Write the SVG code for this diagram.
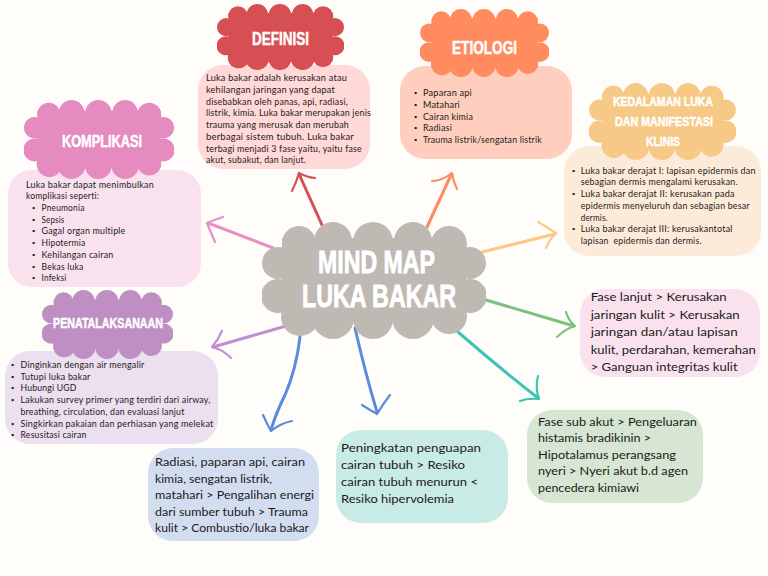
<svg xmlns="http://www.w3.org/2000/svg" xmlns:xlink="http://www.w3.org/1999/xlink" width="768" height="576" viewBox="0 0 768 576">
<style>
.b{font-family:"Lato","Open Sans",sans-serif;font-size:8.6px;fill:#1d1a1a;letter-spacing:.2px}
.d{font-family:"Lato","Open Sans",sans-serif;font-size:6.5px;fill:#1d1a1a;transform:translate(.7px,-1px)}
.l{font-family:"Lato","Open Sans",sans-serif;font-size:11.6px;fill:#1d1a1a}
.t{font-family:"Liberation Sans Narrow","Liberation Sans","Roboto",sans-serif;font-weight:700;fill:#fff;stroke:#fff;stroke-width:.45px}
.c{fill:none;stroke-width:3;stroke-linecap:round;stroke-linejoin:round}
.h{fill:none;stroke-width:2.2;stroke-linecap:round;stroke-linejoin:round}
</style>
<defs>
<symbol id="cloud" viewBox="0 0 224 117" preserveAspectRatio="none">
<rect x="20" y="16" width="184" height="84"/>
<circle cx="37" cy="21" r="17"/><circle cx="71" cy="19" r="19"/><circle cx="111" cy="20" r="20"/><circle cx="151" cy="19" r="19"/><circle cx="187" cy="22" r="18"/>
<circle cx="38" cy="95" r="19"/><circle cx="71" cy="96" r="21"/><circle cx="111" cy="97" r="20"/><circle cx="151" cy="96" r="21"/><circle cx="187" cy="94" r="18"/>
<circle cx="16" cy="41" r="16"/><circle cx="16" cy="74" r="17"/><circle cx="208" cy="41" r="16"/><circle cx="208" cy="74" r="17"/>
</symbol>
</defs>
<rect width="768" height="576" fill="#fffdfa"/>

<g id="connectors">
<g stroke="#d64f52"><path class="c" d="M322 225L299 174"/><path class="h" d="M292 191Q296 183 299 173Q306 177 315 178"/></g>
<g stroke="#ea8ec6"><path class="c" d="M273 248L208 223"/><path class="h" d="M223 217Q214 220 207 223Q211 233 215 242"/></g>
<g stroke="#ff8b5e"><path class="c" d="M427 227L451 175"/><path class="h" d="M432 181Q442 181 452 173Q453 181 457 189"/></g>
<g stroke="#fbc985"><path class="c" d="M482 252L555 234"/><path class="h" d="M538 222Q547 227 556 233Q549 240 546 248"/></g>
<g stroke="#7fbf7f"><path class="c" d="M486 300L574 326"/><path class="h" d="M566 312Q568 320 575 326Q565 329 557 337"/></g>
<g stroke="#3fc4b4"><path class="c" d="M458 332Q497 366 538 398"/><path class="h" d="M538 376Q535 388 539 399Q528 398 520 401"/></g>
<g stroke="#5b8bdc"><path class="c" d="M355 328Q365 372 377 412"/><path class="h" d="M362 405Q370 410 377 414Q383 404 390 395"/></g>
<g stroke="#5b8bdc"><path class="c" d="M300 337Q296 370 285 395Q276 413 271 430"/><path class="h" d="M263 415Q267 424 271 431Q281 423 292 421"/></g>
<g stroke="#bf8fd0"><path class="c" d="M286 326L213 347"/><path class="h" d="M222 331Q218 340 212 347Q222 349 231 358"/></g>
</g>

<g id="main">
<use href="#cloud" xlink:href="#cloud" x="262" y="222" width="224" height="117" fill="#bfb9b3"/>
<text class="t" x="318" y="272.7" font-size="31" textLength="117" lengthAdjust="spacingAndGlyphs" style="stroke-width:.9px">MIND MAP</text>
<text class="t" x="302" y="306.7" font-size="31" textLength="154" lengthAdjust="spacingAndGlyphs" style="stroke-width:.9px">LUKA BAKAR</text>
</g>

<g id="definisi">
<rect x="198" y="65" width="172" height="104" rx="25" fill="#ffd8d8"/>
<use href="#cloud" xlink:href="#cloud" x="217" y="4" width="127" height="66" fill="#d64f52"/>
<text class="t" x="252" y="44.5" font-size="18" textLength="57" lengthAdjust="spacingAndGlyphs">DEFINISI</text>
<text class="b" x="206" y="81" textLength="141" lengthAdjust="spacingAndGlyphs">Luka bakar adalah kerusakan atau</text>
<text class="b" x="206" y="92.7" textLength="129" lengthAdjust="spacingAndGlyphs">kehilangan jaringan yang dapat</text>
<text class="b" x="206" y="104.5" textLength="142" lengthAdjust="spacingAndGlyphs">disebabkan oleh panas, api, radiasi,</text>
<text class="b" x="206" y="116.2" textLength="165" lengthAdjust="spacingAndGlyphs">listrik, kimia. Luka bakar merupakan jenis</text>
<text class="b" x="206" y="128" textLength="143" lengthAdjust="spacingAndGlyphs">trauma yang merusak dan merubah</text>
<text class="b" x="206" y="139.7" textLength="148" lengthAdjust="spacingAndGlyphs">berbagai sistem tubuh. Luka bakar</text>
<text class="b" x="206" y="151.5" textLength="156" lengthAdjust="spacingAndGlyphs">terbagi menjadi 3 fase yaitu, yaitu fase</text>
<text class="b" x="206" y="163.2" textLength="100" lengthAdjust="spacingAndGlyphs">akut, subakut, dan lanjut.</text>
</g>

<g id="komplikasi">
<rect x="8" y="170" width="193" height="117" rx="24" fill="#f9e2ee"/>
<use href="#cloud" xlink:href="#cloud" x="24" y="100" width="150" height="79" fill="#e68bbf"/>
<text class="t" x="62" y="146.7" font-size="16.5" textLength="80" lengthAdjust="spacingAndGlyphs">KOMPLIKASI</text>
<text class="b" x="26" y="187.5" textLength="128" lengthAdjust="spacingAndGlyphs">Luka bakar dapat menimbulkan</text>
<text class="b" x="26" y="199.2" textLength="73" lengthAdjust="spacingAndGlyphs">komplikasi seperti:</text>
<text class="d" x="31" y="211">•</text><text class="b" x="41.5" y="211" textLength="43" lengthAdjust="spacingAndGlyphs">Pneumonia</text>
<text class="d" x="31" y="222.7">•</text><text class="b" x="41.5" y="222.7" textLength="23" lengthAdjust="spacingAndGlyphs">Sepsis</text>
<text class="d" x="31" y="234.4">•</text><text class="b" x="41.5" y="234.4" textLength="84" lengthAdjust="spacingAndGlyphs">Gagal organ multiple</text>
<text class="d" x="31" y="246.1">•</text><text class="b" x="41.5" y="246.1" textLength="44" lengthAdjust="spacingAndGlyphs">Hipotermia</text>
<text class="d" x="31" y="257.8">•</text><text class="b" x="41.5" y="257.8" textLength="72" lengthAdjust="spacingAndGlyphs">Kehilangan cairan</text>
<text class="d" x="31" y="269.5">•</text><text class="b" x="41.5" y="269.5" textLength="42" lengthAdjust="spacingAndGlyphs">Bekas luka</text>
<text class="d" x="31" y="281.2">•</text><text class="b" x="41.5" y="281.2" textLength="25" lengthAdjust="spacingAndGlyphs">Infeksi</text>
</g>

<g id="etiologi">
<rect x="400" y="66" width="172" height="93" rx="25" fill="#ffcebe"/>
<use href="#cloud" xlink:href="#cloud" x="420" y="9" width="129" height="68" fill="#ff8b5e"/>
<text class="t" x="452" y="54" font-size="18" textLength="65" lengthAdjust="spacingAndGlyphs">ETIOLOGI</text>
<text class="d" x="413" y="96">•</text><text class="b" x="423" y="96" textLength="49" lengthAdjust="spacingAndGlyphs">Paparan api</text>
<text class="d" x="413" y="107.7">•</text><text class="b" x="423" y="107.7" textLength="37" lengthAdjust="spacingAndGlyphs">Matahari</text>
<text class="d" x="413" y="119.5">•</text><text class="b" x="423" y="119.5" textLength="50" lengthAdjust="spacingAndGlyphs">Cairan kimia</text>
<text class="d" x="413" y="131.2">•</text><text class="b" x="423" y="131.2" textLength="29" lengthAdjust="spacingAndGlyphs">Radiasi</text>
<text class="d" x="413" y="143">•</text><text class="b" x="423" y="143" textLength="119" lengthAdjust="spacingAndGlyphs">Trauma listrik/sengatan listrik</text>
</g>

<g id="kedalaman">
<rect x="564" y="146" width="197" height="110" rx="25" fill="#fdebd9"/>
<use href="#cloud" xlink:href="#cloud" x="589" y="83" width="147" height="77" fill="#f7c987"/>
<text class="t" x="613" y="106" font-size="12.5" textLength="100" lengthAdjust="spacingAndGlyphs">KEDALAMAN LUKA</text>
<text class="t" x="615" y="126" font-size="12.5" textLength="98" lengthAdjust="spacingAndGlyphs">DAN MANIFESTASI</text>
<text class="t" x="646" y="145.7" font-size="12.5" textLength="34" lengthAdjust="spacingAndGlyphs">KLINIS</text>
<text class="d" x="571" y="173.7">•</text><text class="b" x="580.7" y="173.7" textLength="175" lengthAdjust="spacingAndGlyphs">Luka bakar derajat I: lapisan epidermis dan</text>
<text class="b" x="580.7" y="185.4" textLength="157" lengthAdjust="spacingAndGlyphs">sebagian dermis mengalami kerusakan.</text>
<text class="d" x="571" y="197.1">•</text><text class="b" x="580.7" y="197.1" textLength="154" lengthAdjust="spacingAndGlyphs">Luka bakar derajat II: kerusakan pada</text>
<text class="b" x="580.7" y="208.9" textLength="169" lengthAdjust="spacingAndGlyphs">epidermis menyeluruh dan sebagian besar</text>
<text class="b" x="580.7" y="220.6" textLength="27" lengthAdjust="spacingAndGlyphs">dermis.</text>
<text class="d" x="571" y="232.3">•</text><text class="b" x="580.7" y="232.3" textLength="152" lengthAdjust="spacingAndGlyphs">Luka bakar derajat III: kerusakantotal</text>
<text class="b" x="580.7" y="244" textLength="121" lengthAdjust="spacingAndGlyphs" xml:space="preserve">lapisan  epidermis dan dermis.</text>
</g>

<g id="penatalaksanaan">
<rect x="5" y="351" width="213" height="93" rx="25" fill="#ecdfef"/>
<use href="#cloud" xlink:href="#cloud" x="42" y="290" width="131" height="69" fill="#bf8fc4"/>
<text class="t" x="53" y="328" font-size="14.5" textLength="110" lengthAdjust="spacingAndGlyphs">PENATALAKSANAAN</text>
<text class="d" x="10" y="368">•</text><text class="b" x="20.5" y="368" textLength="124" lengthAdjust="spacingAndGlyphs">Dinginkan dengan air mengalir</text>
<text class="d" x="10" y="379.7">•</text><text class="b" x="20.5" y="379.7" textLength="70" lengthAdjust="spacingAndGlyphs">Tutupi luka bakar</text>
<text class="d" x="10" y="391.4">•</text><text class="b" x="20.5" y="391.4" textLength="56" lengthAdjust="spacingAndGlyphs">Hubungi UGD</text>
<text class="d" x="10" y="403.1">•</text><text class="b" x="20.5" y="403.1" textLength="190" lengthAdjust="spacingAndGlyphs">Lakukan survey primer yang terdiri dari airway,</text>
<text class="b" x="20.5" y="414.8" textLength="164" lengthAdjust="spacingAndGlyphs">breathing, circulation, dan evaluasi lanjut</text>
<text class="d" x="10" y="426.5">•</text><text class="b" x="20.5" y="426.5" textLength="193" lengthAdjust="spacingAndGlyphs">Singkirkan pakaian dan perhiasan yang melekat</text>
<text class="d" x="10" y="438.2">•</text><text class="b" x="20.5" y="438.2" textLength="66" lengthAdjust="spacingAndGlyphs">Resusitasi cairan</text>
</g>

<g id="radiasi">
<rect x="148" y="448" width="171" height="93" rx="25" fill="#d2deef"/>
<text class="l" x="155" y="466.3" textLength="150" lengthAdjust="spacingAndGlyphs">Radiasi, paparan api, cairan</text>
<text class="l" x="155" y="482.8" textLength="117" lengthAdjust="spacingAndGlyphs">kimia, sengatan listrik,</text>
<text class="l" x="155" y="499.2" textLength="159" lengthAdjust="spacingAndGlyphs">matahari &gt; Pengalihan energi</text>
<text class="l" x="155" y="515.7" textLength="153" lengthAdjust="spacingAndGlyphs">dari sumber tubuh &gt; Trauma</text>
<text class="l" x="155" y="532" textLength="154" lengthAdjust="spacingAndGlyphs">kulit &gt; Combustio/luka bakar</text>
</g>

<g id="peningkatan">
<rect x="336" y="430" width="172" height="93" rx="25" fill="#c9ebe5"/>
<text class="l" x="341" y="452" textLength="140" lengthAdjust="spacingAndGlyphs">Peningkatan penguapan</text>
<text class="l" x="341" y="469" textLength="124" lengthAdjust="spacingAndGlyphs">cairan tubuh &gt; Resiko</text>
<text class="l" x="341" y="486" textLength="137" lengthAdjust="spacingAndGlyphs">cairan tubuh menurun &lt;</text>
<text class="l" x="341" y="503" textLength="113" lengthAdjust="spacingAndGlyphs">Resiko hipervolemia</text>
</g>

<g id="fase-sub-akut">
<rect x="527" y="410" width="176" height="93" rx="25" fill="#d6e6d3"/>
<text class="l" x="538" y="425.5" textLength="159" lengthAdjust="spacingAndGlyphs">Fase sub akut &gt; Pengeluaran</text>
<text class="l" x="538" y="442" textLength="113" lengthAdjust="spacingAndGlyphs">histamis bradikinin &gt;</text>
<text class="l" x="538" y="458.7" textLength="138" lengthAdjust="spacingAndGlyphs">Hipotalamus perangsang</text>
<text class="l" x="538" y="475.3" textLength="150" lengthAdjust="spacingAndGlyphs">nyeri &gt; Nyeri akut b.d agen</text>
<text class="l" x="538" y="492" textLength="101" lengthAdjust="spacingAndGlyphs">pencedera kimiawi</text>
</g>

<g id="fase-lanjut">
<rect x="580" y="289" width="180" height="88" rx="25" fill="#f9e2ee"/>
<text class="l" x="590.7" y="301.3" textLength="136" lengthAdjust="spacingAndGlyphs">Fase lanjut &gt; Kerusakan</text>
<text class="l" x="590.7" y="318.7" textLength="149" lengthAdjust="spacingAndGlyphs">jaringan kulit &gt; Kerusakan</text>
<text class="l" x="590.7" y="336" textLength="147" lengthAdjust="spacingAndGlyphs">jaringan dan/atau lapisan</text>
<text class="l" x="590.7" y="353.5" textLength="165" lengthAdjust="spacingAndGlyphs">kulit, perdarahan, kemerahan</text>
<text class="l" x="590.7" y="371" textLength="147" lengthAdjust="spacingAndGlyphs">&gt; Ganguan integritas kulit</text>
</g>
</svg>
